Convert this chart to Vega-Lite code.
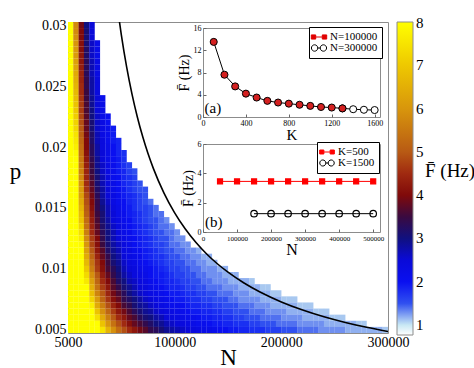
{
"$schema":"https://vega.github.io/schema/vega-lite/v6.json",
"background":"white",
"padding":{"left":8,"top":17,"right":0,"bottom":0},
"config":{"font":"Liberation Serif","view":{"stroke":"#8c8c8c","strokeWidth":1},
"axis":{"labelFont":"Liberation Serif","titleFont":"Liberation Serif","labelColor":"black","titleColor":"black","grid":false,"domain":false,"titleFontWeight":"normal","labelFlush":false,"labelOverlap":false},
"legend":{"labelFont":"Liberation Serif","titleFont":"Liberation Serif","labelColor":"black","titleColor":"black","titleFontWeight":"normal"}},
"datasets":{
"cells":[
{"N":5000,"p":0.03,"F":8},{"N":10000,"p":0.03,"F":5.8},{"N":15000,"p":0.03,"F":3.9},{"N":20000,"p":0.03,"F":3},{"N":25000,"p":0.03,"F":2.5},
{"N":5000,"p":0.0295,"F":8},{"N":10000,"p":0.0295,"F":5.8},{"N":15000,"p":0.0295,"F":4},{"N":20000,"p":0.0295,"F":3.1},{"N":25000,"p":0.0295,"F":2.5},
{"N":5000,"p":0.029,"F":8},{"N":10000,"p":0.029,"F":5.9},{"N":15000,"p":0.029,"F":4},{"N":20000,"p":0.029,"F":3.1},{"N":25000,"p":0.029,"F":2.5},
{"N":5000,"p":0.0285,"F":8},{"N":10000,"p":0.0285,"F":6},{"N":15000,"p":0.0285,"F":4.1},{"N":20000,"p":0.0285,"F":3.1},{"N":25000,"p":0.0285,"F":2.6},{"N":30000,"p":0.0285,"F":2.2},
{"N":5000,"p":0.028,"F":8},{"N":10000,"p":0.028,"F":6.1},{"N":15000,"p":0.028,"F":4.1},{"N":20000,"p":0.028,"F":3.2},{"N":25000,"p":0.028,"F":2.6},{"N":30000,"p":0.028,"F":2.2},
{"N":5000,"p":0.0275,"F":8},{"N":10000,"p":0.0275,"F":6.1},{"N":15000,"p":0.0275,"F":4.2},{"N":20000,"p":0.0275,"F":3.2},{"N":25000,"p":0.0275,"F":2.6},{"N":30000,"p":0.0275,"F":2.2},
{"N":5000,"p":0.027,"F":8},{"N":10000,"p":0.027,"F":6.2},{"N":15000,"p":0.027,"F":4.2},{"N":20000,"p":0.027,"F":3.3},{"N":25000,"p":0.027,"F":2.7},{"N":30000,"p":0.027,"F":2.3},
{"N":5000,"p":0.0265,"F":8},{"N":10000,"p":0.0265,"F":6.3},{"N":15000,"p":0.0265,"F":4.3},{"N":20000,"p":0.0265,"F":3.3},{"N":25000,"p":0.0265,"F":2.7},{"N":30000,"p":0.0265,"F":2.3},
{"N":5000,"p":0.026,"F":8},{"N":10000,"p":0.026,"F":6.4},{"N":15000,"p":0.026,"F":4.4},{"N":20000,"p":0.026,"F":3.3},{"N":25000,"p":0.026,"F":2.7},{"N":30000,"p":0.026,"F":2.3},
{"N":5000,"p":0.0255,"F":8},{"N":10000,"p":0.0255,"F":6.5},{"N":15000,"p":0.0255,"F":4.4},{"N":20000,"p":0.0255,"F":3.4},{"N":25000,"p":0.0255,"F":2.8},{"N":30000,"p":0.0255,"F":2.4},
{"N":5000,"p":0.025,"F":8},{"N":10000,"p":0.025,"F":6.6},{"N":15000,"p":0.025,"F":4.5},{"N":20000,"p":0.025,"F":3.4},{"N":25000,"p":0.025,"F":2.8},{"N":30000,"p":0.025,"F":2.4},
{"N":5000,"p":0.0245,"F":8},{"N":10000,"p":0.0245,"F":6.7},{"N":15000,"p":0.0245,"F":4.5},{"N":20000,"p":0.0245,"F":3.5},{"N":25000,"p":0.0245,"F":2.8},{"N":30000,"p":0.0245,"F":2.4},
{"N":5000,"p":0.024,"F":8},{"N":10000,"p":0.024,"F":6.8},{"N":15000,"p":0.024,"F":4.6},{"N":20000,"p":0.024,"F":3.5},{"N":25000,"p":0.024,"F":2.9},{"N":30000,"p":0.024,"F":2.5},{"N":35000,"p":0.024,"F":2.1},
{"N":5000,"p":0.0235,"F":8},{"N":10000,"p":0.0235,"F":6.9},{"N":15000,"p":0.0235,"F":4.7},{"N":20000,"p":0.0235,"F":3.6},{"N":25000,"p":0.0235,"F":2.9},{"N":30000,"p":0.0235,"F":2.5},{"N":35000,"p":0.0235,"F":2.2},
{"N":5000,"p":0.023,"F":8},{"N":10000,"p":0.023,"F":7},{"N":15000,"p":0.023,"F":4.7},{"N":20000,"p":0.023,"F":3.6},{"N":25000,"p":0.023,"F":3},{"N":30000,"p":0.023,"F":2.5},{"N":35000,"p":0.023,"F":2.2},
{"N":5000,"p":0.0225,"F":8},{"N":10000,"p":0.0225,"F":7.1},{"N":15000,"p":0.0225,"F":4.8},{"N":20000,"p":0.0225,"F":3.7},{"N":25000,"p":0.0225,"F":3},{"N":30000,"p":0.0225,"F":2.6},{"N":35000,"p":0.0225,"F":2.2},{"N":40000,"p":0.0225,"F":2},
{"N":5000,"p":0.022,"F":8},{"N":10000,"p":0.022,"F":7.2},{"N":15000,"p":0.022,"F":4.9},{"N":20000,"p":0.022,"F":3.8},{"N":25000,"p":0.022,"F":3.1},{"N":30000,"p":0.022,"F":2.6},{"N":35000,"p":0.022,"F":2.3},{"N":40000,"p":0.022,"F":2},
{"N":5000,"p":0.0215,"F":8},{"N":10000,"p":0.0215,"F":7.3},{"N":15000,"p":0.0215,"F":5},{"N":20000,"p":0.0215,"F":3.8},{"N":25000,"p":0.0215,"F":3.1},{"N":30000,"p":0.0215,"F":2.6},{"N":35000,"p":0.0215,"F":2.3},{"N":40000,"p":0.0215,"F":2.1},{"N":45000,"p":0.0215,"F":1.9},
{"N":5000,"p":0.021,"F":8},{"N":10000,"p":0.021,"F":7.5},{"N":15000,"p":0.021,"F":5.1},{"N":20000,"p":0.021,"F":3.9},{"N":25000,"p":0.021,"F":3.2},{"N":30000,"p":0.021,"F":2.7},{"N":35000,"p":0.021,"F":2.3},{"N":40000,"p":0.021,"F":2.1},{"N":45000,"p":0.021,"F":1.9},
{"N":5000,"p":0.0205,"F":8},{"N":10000,"p":0.0205,"F":7.6},{"N":15000,"p":0.0205,"F":5.2},{"N":20000,"p":0.0205,"F":4},{"N":25000,"p":0.0205,"F":3.2},{"N":30000,"p":0.0205,"F":2.7},{"N":35000,"p":0.0205,"F":2.4},{"N":40000,"p":0.0205,"F":2.1},{"N":45000,"p":0.0205,"F":1.9},{"N":50000,"p":0.0205,"F":1.8},
{"N":5000,"p":0.02,"F":8},{"N":10000,"p":0.02,"F":7.7},{"N":15000,"p":0.02,"F":5.3},{"N":20000,"p":0.02,"F":4},{"N":25000,"p":0.02,"F":3.3},{"N":30000,"p":0.02,"F":2.8},{"N":35000,"p":0.02,"F":2.4},{"N":40000,"p":0.02,"F":2.2},{"N":45000,"p":0.02,"F":2},{"N":50000,"p":0.02,"F":1.8},
{"N":5000,"p":0.0195,"F":8},{"N":10000,"p":0.0195,"F":7.9},{"N":15000,"p":0.0195,"F":5.4},{"N":20000,"p":0.0195,"F":4.1},{"N":25000,"p":0.0195,"F":3.3},{"N":30000,"p":0.0195,"F":2.8},{"N":35000,"p":0.0195,"F":2.5},{"N":40000,"p":0.0195,"F":2.2},{"N":45000,"p":0.0195,"F":2},{"N":50000,"p":0.0195,"F":1.8},{"N":55000,"p":0.0195,"F":1.7},
{"N":5000,"p":0.019,"F":8},{"N":10000,"p":0.019,"F":8},{"N":15000,"p":0.019,"F":5.5},{"N":20000,"p":0.019,"F":4.2},{"N":25000,"p":0.019,"F":3.4},{"N":30000,"p":0.019,"F":2.9},{"N":35000,"p":0.019,"F":2.5},{"N":40000,"p":0.019,"F":2.2},{"N":45000,"p":0.019,"F":2},{"N":50000,"p":0.019,"F":1.9},{"N":55000,"p":0.019,"F":1.7},
{"N":5000,"p":0.0185,"F":8},{"N":10000,"p":0.0185,"F":8},{"N":15000,"p":0.0185,"F":5.6},{"N":20000,"p":0.0185,"F":4.3},{"N":25000,"p":0.0185,"F":3.5},{"N":30000,"p":0.0185,"F":2.9},{"N":35000,"p":0.0185,"F":2.6},{"N":40000,"p":0.0185,"F":2.3},{"N":45000,"p":0.0185,"F":2.1},{"N":50000,"p":0.0185,"F":1.9},{"N":55000,"p":0.0185,"F":1.7},{"N":60000,"p":0.0185,"F":1.6},
{"N":5000,"p":0.018,"F":8},{"N":10000,"p":0.018,"F":8},{"N":15000,"p":0.018,"F":5.7},{"N":20000,"p":0.018,"F":4.4},{"N":25000,"p":0.018,"F":3.5},{"N":30000,"p":0.018,"F":3},{"N":35000,"p":0.018,"F":2.6},{"N":40000,"p":0.018,"F":2.3},{"N":45000,"p":0.018,"F":2.1},{"N":50000,"p":0.018,"F":1.9},{"N":55000,"p":0.018,"F":1.8},{"N":60000,"p":0.018,"F":1.6},{"N":65000,"p":0.018,"F":1.5},
{"N":5000,"p":0.0175,"F":8},{"N":10000,"p":0.0175,"F":8},{"N":15000,"p":0.0175,"F":5.8},{"N":20000,"p":0.0175,"F":4.4},{"N":25000,"p":0.0175,"F":3.6},{"N":30000,"p":0.0175,"F":3.1},{"N":35000,"p":0.0175,"F":2.7},{"N":40000,"p":0.0175,"F":2.4},{"N":45000,"p":0.0175,"F":2.1},{"N":50000,"p":0.0175,"F":2},{"N":55000,"p":0.0175,"F":1.8},{"N":60000,"p":0.0175,"F":1.7},{"N":65000,"p":0.0175,"F":1.6},
{"N":5000,"p":0.017,"F":8},{"N":10000,"p":0.017,"F":8},{"N":15000,"p":0.017,"F":6},{"N":20000,"p":0.017,"F":4.5},{"N":25000,"p":0.017,"F":3.7},{"N":30000,"p":0.017,"F":3.1},{"N":35000,"p":0.017,"F":2.7},{"N":40000,"p":0.017,"F":2.4},{"N":45000,"p":0.017,"F":2.2},{"N":50000,"p":0.017,"F":2},{"N":55000,"p":0.017,"F":1.8},{"N":60000,"p":0.017,"F":1.7},{"N":65000,"p":0.017,"F":1.6},{"N":70000,"p":0.017,"F":1.5},
{"N":5000,"p":0.0165,"F":8},{"N":10000,"p":0.0165,"F":8},{"N":15000,"p":0.0165,"F":6.1},{"N":20000,"p":0.0165,"F":4.6},{"N":25000,"p":0.0165,"F":3.8},{"N":30000,"p":0.0165,"F":3.2},{"N":35000,"p":0.0165,"F":2.8},{"N":40000,"p":0.0165,"F":2.5},{"N":45000,"p":0.0165,"F":2.2},{"N":50000,"p":0.0165,"F":2},{"N":55000,"p":0.0165,"F":1.9},{"N":60000,"p":0.0165,"F":1.7},{"N":65000,"p":0.0165,"F":1.6},{"N":70000,"p":0.0165,"F":1.5},{"N":75000,"p":0.0165,"F":1.5},
{"N":5000,"p":0.016,"F":8},{"N":10000,"p":0.016,"F":8},{"N":15000,"p":0.016,"F":6.2},{"N":20000,"p":0.016,"F":4.8},{"N":25000,"p":0.016,"F":3.9},{"N":30000,"p":0.016,"F":3.3},{"N":35000,"p":0.016,"F":2.8},{"N":40000,"p":0.016,"F":2.5},{"N":45000,"p":0.016,"F":2.3},{"N":50000,"p":0.016,"F":2.1},{"N":55000,"p":0.016,"F":1.9},{"N":60000,"p":0.016,"F":1.8},{"N":65000,"p":0.016,"F":1.7},{"N":70000,"p":0.016,"F":1.6},{"N":75000,"p":0.016,"F":1.5},
{"N":5000,"p":0.0155,"F":8},{"N":10000,"p":0.0155,"F":8},{"N":15000,"p":0.0155,"F":6.4},{"N":20000,"p":0.0155,"F":4.9},{"N":25000,"p":0.0155,"F":4},{"N":30000,"p":0.0155,"F":3.4},{"N":35000,"p":0.0155,"F":2.9},{"N":40000,"p":0.0155,"F":2.6},{"N":45000,"p":0.0155,"F":2.3},{"N":50000,"p":0.0155,"F":2.1},{"N":55000,"p":0.0155,"F":2},{"N":60000,"p":0.0155,"F":1.8},{"N":65000,"p":0.0155,"F":1.7},{"N":70000,"p":0.0155,"F":1.6},{"N":75000,"p":0.0155,"F":1.5},{"N":80000,"p":0.0155,"F":1.4},
{"N":5000,"p":0.015,"F":8},{"N":10000,"p":0.015,"F":8},{"N":15000,"p":0.015,"F":6.6},{"N":20000,"p":0.015,"F":5},{"N":25000,"p":0.015,"F":4.1},{"N":30000,"p":0.015,"F":3.4},{"N":35000,"p":0.015,"F":3},{"N":40000,"p":0.015,"F":2.7},{"N":45000,"p":0.015,"F":2.4},{"N":50000,"p":0.015,"F":2.2},{"N":55000,"p":0.015,"F":2},{"N":60000,"p":0.015,"F":1.9},{"N":65000,"p":0.015,"F":1.7},{"N":70000,"p":0.015,"F":1.6},{"N":75000,"p":0.015,"F":1.6},{"N":80000,"p":0.015,"F":1.5},{"N":85000,"p":0.015,"F":1.4},
{"N":5000,"p":0.0145,"F":8},{"N":10000,"p":0.0145,"F":8},{"N":15000,"p":0.0145,"F":6.8},{"N":20000,"p":0.0145,"F":5.1},{"N":25000,"p":0.0145,"F":4.2},{"N":30000,"p":0.0145,"F":3.5},{"N":35000,"p":0.0145,"F":3.1},{"N":40000,"p":0.0145,"F":2.7},{"N":45000,"p":0.0145,"F":2.5},{"N":50000,"p":0.0145,"F":2.2},{"N":55000,"p":0.0145,"F":2.1},{"N":60000,"p":0.0145,"F":1.9},{"N":65000,"p":0.0145,"F":1.8},{"N":70000,"p":0.0145,"F":1.7},{"N":75000,"p":0.0145,"F":1.6},{"N":80000,"p":0.0145,"F":1.5},{"N":85000,"p":0.0145,"F":1.4},{"N":90000,"p":0.0145,"F":1.4},
{"N":5000,"p":0.014,"F":8},{"N":10000,"p":0.014,"F":8},{"N":15000,"p":0.014,"F":6.9},{"N":20000,"p":0.014,"F":5.3},{"N":25000,"p":0.014,"F":4.3},{"N":30000,"p":0.014,"F":3.6},{"N":35000,"p":0.014,"F":3.1},{"N":40000,"p":0.014,"F":2.8},{"N":45000,"p":0.014,"F":2.5},{"N":50000,"p":0.014,"F":2.3},{"N":55000,"p":0.014,"F":2.1},{"N":60000,"p":0.014,"F":2},{"N":65000,"p":0.014,"F":1.8},{"N":70000,"p":0.014,"F":1.7},{"N":75000,"p":0.014,"F":1.6},{"N":80000,"p":0.014,"F":1.5},{"N":85000,"p":0.014,"F":1.5},{"N":90000,"p":0.014,"F":1.4},{"N":95000,"p":0.014,"F":1.3},
{"N":5000,"p":0.0135,"F":8},{"N":10000,"p":0.0135,"F":8},{"N":15000,"p":0.0135,"F":7.2},{"N":20000,"p":0.0135,"F":5.4},{"N":25000,"p":0.0135,"F":4.4},{"N":30000,"p":0.0135,"F":3.7},{"N":35000,"p":0.0135,"F":3.2},{"N":40000,"p":0.0135,"F":2.9},{"N":45000,"p":0.0135,"F":2.6},{"N":50000,"p":0.0135,"F":2.4},{"N":55000,"p":0.0135,"F":2.2},{"N":60000,"p":0.0135,"F":2},{"N":65000,"p":0.0135,"F":1.9},{"N":70000,"p":0.0135,"F":1.8},{"N":75000,"p":0.0135,"F":1.7},{"N":80000,"p":0.0135,"F":1.6},{"N":85000,"p":0.0135,"F":1.5},{"N":90000,"p":0.0135,"F":1.4},{"N":95000,"p":0.0135,"F":1.4},{"N":100000,"p":0.0135,"F":1.3},
{"N":5000,"p":0.013,"F":8},{"N":10000,"p":0.013,"F":8},{"N":15000,"p":0.013,"F":7.4},{"N":20000,"p":0.013,"F":5.6},{"N":25000,"p":0.013,"F":4.5},{"N":30000,"p":0.013,"F":3.8},{"N":35000,"p":0.013,"F":3.3},{"N":40000,"p":0.013,"F":3},{"N":45000,"p":0.013,"F":2.7},{"N":50000,"p":0.013,"F":2.4},{"N":55000,"p":0.013,"F":2.2},{"N":60000,"p":0.013,"F":2.1},{"N":65000,"p":0.013,"F":1.9},{"N":70000,"p":0.013,"F":1.8},{"N":75000,"p":0.013,"F":1.7},{"N":80000,"p":0.013,"F":1.6},{"N":85000,"p":0.013,"F":1.5},{"N":90000,"p":0.013,"F":1.5},{"N":95000,"p":0.013,"F":1.4},{"N":100000,"p":0.013,"F":1.4},{"N":105000,"p":0.013,"F":1.3},
{"N":5000,"p":0.0125,"F":8},{"N":10000,"p":0.0125,"F":8},{"N":15000,"p":0.0125,"F":7.6},{"N":20000,"p":0.0125,"F":5.8},{"N":25000,"p":0.0125,"F":4.7},{"N":30000,"p":0.0125,"F":4},{"N":35000,"p":0.0125,"F":3.4},{"N":40000,"p":0.0125,"F":3},{"N":45000,"p":0.0125,"F":2.7},{"N":50000,"p":0.0125,"F":2.5},{"N":55000,"p":0.0125,"F":2.3},{"N":60000,"p":0.0125,"F":2.1},{"N":65000,"p":0.0125,"F":2},{"N":70000,"p":0.0125,"F":1.9},{"N":75000,"p":0.0125,"F":1.8},{"N":80000,"p":0.0125,"F":1.7},{"N":85000,"p":0.0125,"F":1.6},{"N":90000,"p":0.0125,"F":1.5},{"N":95000,"p":0.0125,"F":1.5},{"N":100000,"p":0.0125,"F":1.4},{"N":105000,"p":0.0125,"F":1.3},{"N":110000,"p":0.0125,"F":1.3},
{"N":5000,"p":0.012,"F":8},{"N":10000,"p":0.012,"F":8},{"N":15000,"p":0.012,"F":7.9},{"N":20000,"p":0.012,"F":6},{"N":25000,"p":0.012,"F":4.8},{"N":30000,"p":0.012,"F":4.1},{"N":35000,"p":0.012,"F":3.5},{"N":40000,"p":0.012,"F":3.1},{"N":45000,"p":0.012,"F":2.8},{"N":50000,"p":0.012,"F":2.6},{"N":55000,"p":0.012,"F":2.4},{"N":60000,"p":0.012,"F":2.2},{"N":65000,"p":0.012,"F":2},{"N":70000,"p":0.012,"F":1.9},{"N":75000,"p":0.012,"F":1.8},{"N":80000,"p":0.012,"F":1.7},{"N":85000,"p":0.012,"F":1.6},{"N":90000,"p":0.012,"F":1.6},{"N":95000,"p":0.012,"F":1.5},{"N":100000,"p":0.012,"F":1.4},{"N":105000,"p":0.012,"F":1.4},{"N":110000,"p":0.012,"F":1.3},{"N":115000,"p":0.012,"F":1.3},
{"N":5000,"p":0.0115,"F":8},{"N":10000,"p":0.0115,"F":8},{"N":15000,"p":0.0115,"F":8},{"N":20000,"p":0.0115,"F":6.2},{"N":25000,"p":0.0115,"F":5},{"N":30000,"p":0.0115,"F":4.2},{"N":35000,"p":0.0115,"F":3.7},{"N":40000,"p":0.0115,"F":3.2},{"N":45000,"p":0.0115,"F":2.9},{"N":50000,"p":0.0115,"F":2.7},{"N":55000,"p":0.0115,"F":2.4},{"N":60000,"p":0.0115,"F":2.3},{"N":65000,"p":0.0115,"F":2.1},{"N":70000,"p":0.0115,"F":2},{"N":75000,"p":0.0115,"F":1.9},{"N":80000,"p":0.0115,"F":1.8},{"N":85000,"p":0.0115,"F":1.7},{"N":90000,"p":0.0115,"F":1.6},{"N":95000,"p":0.0115,"F":1.5},{"N":100000,"p":0.0115,"F":1.5},{"N":105000,"p":0.0115,"F":1.4},{"N":110000,"p":0.0115,"F":1.4},{"N":115000,"p":0.0115,"F":1.3},{"N":120000,"p":0.0115,"F":1.3},{"N":125000,"p":0.0115,"F":1.2},
{"N":5000,"p":0.011,"F":8},{"N":10000,"p":0.011,"F":8},{"N":15000,"p":0.011,"F":8},{"N":20000,"p":0.011,"F":6.4},{"N":25000,"p":0.011,"F":5.2},{"N":30000,"p":0.011,"F":4.4},{"N":35000,"p":0.011,"F":3.8},{"N":40000,"p":0.011,"F":3.4},{"N":45000,"p":0.011,"F":3},{"N":50000,"p":0.011,"F":2.8},{"N":55000,"p":0.011,"F":2.5},{"N":60000,"p":0.011,"F":2.3},{"N":65000,"p":0.011,"F":2.2},{"N":70000,"p":0.011,"F":2.1},{"N":75000,"p":0.011,"F":1.9},{"N":80000,"p":0.011,"F":1.8},{"N":85000,"p":0.011,"F":1.7},{"N":90000,"p":0.011,"F":1.7},{"N":95000,"p":0.011,"F":1.6},{"N":100000,"p":0.011,"F":1.5},{"N":105000,"p":0.011,"F":1.5},{"N":110000,"p":0.011,"F":1.4},{"N":115000,"p":0.011,"F":1.4},{"N":120000,"p":0.011,"F":1.3},{"N":125000,"p":0.011,"F":1.3},{"N":130000,"p":0.011,"F":1.2},{"N":135000,"p":0.011,"F":1.2},
{"N":5000,"p":0.0105,"F":8},{"N":10000,"p":0.0105,"F":8},{"N":15000,"p":0.0105,"F":8},{"N":20000,"p":0.0105,"F":6.7},{"N":25000,"p":0.0105,"F":5.4},{"N":30000,"p":0.0105,"F":4.6},{"N":35000,"p":0.0105,"F":4},{"N":40000,"p":0.0105,"F":3.5},{"N":45000,"p":0.0105,"F":3.1},{"N":50000,"p":0.0105,"F":2.9},{"N":55000,"p":0.0105,"F":2.6},{"N":60000,"p":0.0105,"F":2.4},{"N":65000,"p":0.0105,"F":2.3},{"N":70000,"p":0.0105,"F":2.1},{"N":75000,"p":0.0105,"F":2},{"N":80000,"p":0.0105,"F":1.9},{"N":85000,"p":0.0105,"F":1.8},{"N":90000,"p":0.0105,"F":1.7},{"N":95000,"p":0.0105,"F":1.6},{"N":100000,"p":0.0105,"F":1.6},{"N":105000,"p":0.0105,"F":1.5},{"N":110000,"p":0.0105,"F":1.5},{"N":115000,"p":0.0105,"F":1.4},{"N":120000,"p":0.0105,"F":1.4},{"N":125000,"p":0.0105,"F":1.3},{"N":130000,"p":0.0105,"F":1.3},{"N":135000,"p":0.0105,"F":1.2},{"N":140000,"p":0.0105,"F":1.2},
{"N":5000,"p":0.01,"F":8},{"N":10000,"p":0.01,"F":8},{"N":15000,"p":0.01,"F":8},{"N":20000,"p":0.01,"F":7},{"N":25000,"p":0.01,"F":5.6},{"N":30000,"p":0.01,"F":4.7},{"N":35000,"p":0.01,"F":4.1},{"N":40000,"p":0.01,"F":3.6},{"N":45000,"p":0.01,"F":3.3},{"N":50000,"p":0.01,"F":3},{"N":55000,"p":0.01,"F":2.7},{"N":60000,"p":0.01,"F":2.5},{"N":65000,"p":0.01,"F":2.4},{"N":70000,"p":0.01,"F":2.2},{"N":75000,"p":0.01,"F":2.1},{"N":80000,"p":0.01,"F":2},{"N":85000,"p":0.01,"F":1.9},{"N":90000,"p":0.01,"F":1.8},{"N":95000,"p":0.01,"F":1.7},{"N":100000,"p":0.01,"F":1.6},{"N":105000,"p":0.01,"F":1.6},{"N":110000,"p":0.01,"F":1.5},{"N":115000,"p":0.01,"F":1.5},{"N":120000,"p":0.01,"F":1.4},{"N":125000,"p":0.01,"F":1.4},{"N":130000,"p":0.01,"F":1.3},{"N":135000,"p":0.01,"F":1.3},{"N":140000,"p":0.01,"F":1.3},{"N":145000,"p":0.01,"F":1.2},{"N":150000,"p":0.01,"F":1.2},
{"N":5000,"p":0.0095,"F":8},{"N":10000,"p":0.0095,"F":8},{"N":15000,"p":0.0095,"F":8},{"N":20000,"p":0.0095,"F":7.3},{"N":25000,"p":0.0095,"F":5.9},{"N":30000,"p":0.0095,"F":5},{"N":35000,"p":0.0095,"F":4.3},{"N":40000,"p":0.0095,"F":3.8},{"N":45000,"p":0.0095,"F":3.4},{"N":50000,"p":0.0095,"F":3.1},{"N":55000,"p":0.0095,"F":2.8},{"N":60000,"p":0.0095,"F":2.6},{"N":65000,"p":0.0095,"F":2.4},{"N":70000,"p":0.0095,"F":2.3},{"N":75000,"p":0.0095,"F":2.2},{"N":80000,"p":0.0095,"F":2},{"N":85000,"p":0.0095,"F":1.9},{"N":90000,"p":0.0095,"F":1.9},{"N":95000,"p":0.0095,"F":1.8},{"N":100000,"p":0.0095,"F":1.7},{"N":105000,"p":0.0095,"F":1.6},{"N":110000,"p":0.0095,"F":1.6},{"N":115000,"p":0.0095,"F":1.5},{"N":120000,"p":0.0095,"F":1.5},{"N":125000,"p":0.0095,"F":1.4},{"N":130000,"p":0.0095,"F":1.4},{"N":135000,"p":0.0095,"F":1.3},{"N":140000,"p":0.0095,"F":1.3},{"N":145000,"p":0.0095,"F":1.3},{"N":150000,"p":0.0095,"F":1.2},{"N":155000,"p":0.0095,"F":1.2},{"N":160000,"p":0.0095,"F":1.2},
{"N":5000,"p":0.009,"F":8},{"N":10000,"p":0.009,"F":8},{"N":15000,"p":0.009,"F":8},{"N":20000,"p":0.009,"F":7.6},{"N":25000,"p":0.009,"F":6.2},{"N":30000,"p":0.009,"F":5.2},{"N":35000,"p":0.009,"F":4.5},{"N":40000,"p":0.009,"F":4},{"N":45000,"p":0.009,"F":3.6},{"N":50000,"p":0.009,"F":3.2},{"N":55000,"p":0.009,"F":3},{"N":60000,"p":0.009,"F":2.7},{"N":65000,"p":0.009,"F":2.6},{"N":70000,"p":0.009,"F":2.4},{"N":75000,"p":0.009,"F":2.3},{"N":80000,"p":0.009,"F":2.1},{"N":85000,"p":0.009,"F":2},{"N":90000,"p":0.009,"F":1.9},{"N":95000,"p":0.009,"F":1.8},{"N":100000,"p":0.009,"F":1.8},{"N":105000,"p":0.009,"F":1.7},{"N":110000,"p":0.009,"F":1.6},{"N":115000,"p":0.009,"F":1.6},{"N":120000,"p":0.009,"F":1.5},{"N":125000,"p":0.009,"F":1.5},{"N":130000,"p":0.009,"F":1.4},{"N":135000,"p":0.009,"F":1.4},{"N":140000,"p":0.009,"F":1.3},{"N":145000,"p":0.009,"F":1.3},{"N":150000,"p":0.009,"F":1.3},{"N":155000,"p":0.009,"F":1.2},{"N":160000,"p":0.009,"F":1.2},{"N":165000,"p":0.009,"F":1.2},{"N":170000,"p":0.009,"F":1.2},{"N":175000,"p":0.009,"F":1.1},
{"N":5000,"p":0.0085,"F":8},{"N":10000,"p":0.0085,"F":8},{"N":15000,"p":0.0085,"F":8},{"N":20000,"p":0.0085,"F":8},{"N":25000,"p":0.0085,"F":6.5},{"N":30000,"p":0.0085,"F":5.4},{"N":35000,"p":0.0085,"F":4.7},{"N":40000,"p":0.0085,"F":4.2},{"N":45000,"p":0.0085,"F":3.7},{"N":50000,"p":0.0085,"F":3.4},{"N":55000,"p":0.0085,"F":3.1},{"N":60000,"p":0.0085,"F":2.9},{"N":65000,"p":0.0085,"F":2.7},{"N":70000,"p":0.0085,"F":2.5},{"N":75000,"p":0.0085,"F":2.4},{"N":80000,"p":0.0085,"F":2.2},{"N":85000,"p":0.0085,"F":2.1},{"N":90000,"p":0.0085,"F":2},{"N":95000,"p":0.0085,"F":1.9},{"N":100000,"p":0.0085,"F":1.8},{"N":105000,"p":0.0085,"F":1.8},{"N":110000,"p":0.0085,"F":1.7},{"N":115000,"p":0.0085,"F":1.6},{"N":120000,"p":0.0085,"F":1.6},{"N":125000,"p":0.0085,"F":1.5},{"N":130000,"p":0.0085,"F":1.5},{"N":135000,"p":0.0085,"F":1.4},{"N":140000,"p":0.0085,"F":1.4},{"N":145000,"p":0.0085,"F":1.4},{"N":150000,"p":0.0085,"F":1.3},{"N":155000,"p":0.0085,"F":1.3},{"N":160000,"p":0.0085,"F":1.3},{"N":165000,"p":0.0085,"F":1.2},{"N":170000,"p":0.0085,"F":1.2},{"N":175000,"p":0.0085,"F":1.2},{"N":180000,"p":0.0085,"F":1.2},{"N":185000,"p":0.0085,"F":1.1},{"N":190000,"p":0.0085,"F":1.1},
{"N":5000,"p":0.008,"F":8},{"N":10000,"p":0.008,"F":8},{"N":15000,"p":0.008,"F":8},{"N":20000,"p":0.008,"F":8},{"N":25000,"p":0.008,"F":6.8},{"N":30000,"p":0.008,"F":5.7},{"N":35000,"p":0.008,"F":5},{"N":40000,"p":0.008,"F":4.4},{"N":45000,"p":0.008,"F":3.9},{"N":50000,"p":0.008,"F":3.6},{"N":55000,"p":0.008,"F":3.3},{"N":60000,"p":0.008,"F":3},{"N":65000,"p":0.008,"F":2.8},{"N":70000,"p":0.008,"F":2.6},{"N":75000,"p":0.008,"F":2.5},{"N":80000,"p":0.008,"F":2.3},{"N":85000,"p":0.008,"F":2.2},{"N":90000,"p":0.008,"F":2.1},{"N":95000,"p":0.008,"F":2},{"N":100000,"p":0.008,"F":1.9},{"N":105000,"p":0.008,"F":1.9},{"N":110000,"p":0.008,"F":1.8},{"N":115000,"p":0.008,"F":1.7},{"N":120000,"p":0.008,"F":1.7},{"N":125000,"p":0.008,"F":1.6},{"N":130000,"p":0.008,"F":1.6},{"N":135000,"p":0.008,"F":1.5},{"N":140000,"p":0.008,"F":1.5},{"N":145000,"p":0.008,"F":1.4},{"N":150000,"p":0.008,"F":1.4},{"N":155000,"p":0.008,"F":1.4},{"N":160000,"p":0.008,"F":1.3},{"N":165000,"p":0.008,"F":1.3},{"N":170000,"p":0.008,"F":1.3},{"N":175000,"p":0.008,"F":1.2},{"N":180000,"p":0.008,"F":1.2},{"N":185000,"p":0.008,"F":1.2},{"N":190000,"p":0.008,"F":1.2},{"N":195000,"p":0.008,"F":1.1},{"N":200000,"p":0.008,"F":1.1},
{"N":5000,"p":0.0075,"F":8},{"N":10000,"p":0.0075,"F":8},{"N":15000,"p":0.0075,"F":8},{"N":20000,"p":0.0075,"F":8},{"N":25000,"p":0.0075,"F":7.2},{"N":30000,"p":0.0075,"F":6.1},{"N":35000,"p":0.0075,"F":5.2},{"N":40000,"p":0.0075,"F":4.6},{"N":45000,"p":0.0075,"F":4.1},{"N":50000,"p":0.0075,"F":3.8},{"N":55000,"p":0.0075,"F":3.4},{"N":60000,"p":0.0075,"F":3.2},{"N":65000,"p":0.0075,"F":3},{"N":70000,"p":0.0075,"F":2.8},{"N":75000,"p":0.0075,"F":2.6},{"N":80000,"p":0.0075,"F":2.5},{"N":85000,"p":0.0075,"F":2.3},{"N":90000,"p":0.0075,"F":2.2},{"N":95000,"p":0.0075,"F":2.1},{"N":100000,"p":0.0075,"F":2},{"N":105000,"p":0.0075,"F":1.9},{"N":110000,"p":0.0075,"F":1.9},{"N":115000,"p":0.0075,"F":1.8},{"N":120000,"p":0.0075,"F":1.7},{"N":125000,"p":0.0075,"F":1.7},{"N":130000,"p":0.0075,"F":1.6},{"N":135000,"p":0.0075,"F":1.6},{"N":140000,"p":0.0075,"F":1.5},{"N":145000,"p":0.0075,"F":1.5},{"N":150000,"p":0.0075,"F":1.5},{"N":155000,"p":0.0075,"F":1.4},{"N":160000,"p":0.0075,"F":1.4},{"N":165000,"p":0.0075,"F":1.3},{"N":170000,"p":0.0075,"F":1.3},{"N":175000,"p":0.0075,"F":1.3},{"N":180000,"p":0.0075,"F":1.3},{"N":185000,"p":0.0075,"F":1.2},{"N":190000,"p":0.0075,"F":1.2},{"N":195000,"p":0.0075,"F":1.2},{"N":200000,"p":0.0075,"F":1.2},{"N":205000,"p":0.0075,"F":1.1},{"N":210000,"p":0.0075,"F":1.1},{"N":215000,"p":0.0075,"F":1.1},
{"N":5000,"p":0.007,"F":8},{"N":10000,"p":0.007,"F":8},{"N":15000,"p":0.007,"F":8},{"N":20000,"p":0.007,"F":8},{"N":25000,"p":0.007,"F":7.7},{"N":30000,"p":0.007,"F":6.4},{"N":35000,"p":0.007,"F":5.6},{"N":40000,"p":0.007,"F":4.9},{"N":45000,"p":0.007,"F":4.4},{"N":50000,"p":0.007,"F":4},{"N":55000,"p":0.007,"F":3.6},{"N":60000,"p":0.007,"F":3.4},{"N":65000,"p":0.007,"F":3.1},{"N":70000,"p":0.007,"F":2.9},{"N":75000,"p":0.007,"F":2.8},{"N":80000,"p":0.007,"F":2.6},{"N":85000,"p":0.007,"F":2.5},{"N":90000,"p":0.007,"F":2.3},{"N":95000,"p":0.007,"F":2.2},{"N":100000,"p":0.007,"F":2.1},{"N":105000,"p":0.007,"F":2.1},{"N":110000,"p":0.007,"F":2},{"N":115000,"p":0.007,"F":1.9},{"N":120000,"p":0.007,"F":1.8},{"N":125000,"p":0.007,"F":1.8},{"N":130000,"p":0.007,"F":1.7},{"N":135000,"p":0.007,"F":1.7},{"N":140000,"p":0.007,"F":1.6},{"N":145000,"p":0.007,"F":1.6},{"N":150000,"p":0.007,"F":1.5},{"N":155000,"p":0.007,"F":1.5},{"N":160000,"p":0.007,"F":1.5},{"N":165000,"p":0.007,"F":1.4},{"N":170000,"p":0.007,"F":1.4},{"N":175000,"p":0.007,"F":1.4},{"N":180000,"p":0.007,"F":1.3},{"N":185000,"p":0.007,"F":1.3},{"N":190000,"p":0.007,"F":1.3},{"N":195000,"p":0.007,"F":1.2},{"N":200000,"p":0.007,"F":1.2},{"N":205000,"p":0.007,"F":1.2},{"N":210000,"p":0.007,"F":1.2},{"N":215000,"p":0.007,"F":1.2},{"N":220000,"p":0.007,"F":1.1},{"N":225000,"p":0.007,"F":1.1},{"N":230000,"p":0.007,"F":1.1},
{"N":5000,"p":0.0065,"F":8},{"N":10000,"p":0.0065,"F":8},{"N":15000,"p":0.0065,"F":8},{"N":20000,"p":0.0065,"F":8},{"N":25000,"p":0.0065,"F":8},{"N":30000,"p":0.0065,"F":6.9},{"N":35000,"p":0.0065,"F":5.9},{"N":40000,"p":0.0065,"F":5.2},{"N":45000,"p":0.0065,"F":4.7},{"N":50000,"p":0.0065,"F":4.2},{"N":55000,"p":0.0065,"F":3.9},{"N":60000,"p":0.0065,"F":3.6},{"N":65000,"p":0.0065,"F":3.3},{"N":70000,"p":0.0065,"F":3.1},{"N":75000,"p":0.0065,"F":2.9},{"N":80000,"p":0.0065,"F":2.8},{"N":85000,"p":0.0065,"F":2.6},{"N":90000,"p":0.0065,"F":2.5},{"N":95000,"p":0.0065,"F":2.4},{"N":100000,"p":0.0065,"F":2.3},{"N":105000,"p":0.0065,"F":2.2},{"N":110000,"p":0.0065,"F":2.1},{"N":115000,"p":0.0065,"F":2},{"N":120000,"p":0.0065,"F":1.9},{"N":125000,"p":0.0065,"F":1.9},{"N":130000,"p":0.0065,"F":1.8},{"N":135000,"p":0.0065,"F":1.8},{"N":140000,"p":0.0065,"F":1.7},{"N":145000,"p":0.0065,"F":1.7},{"N":150000,"p":0.0065,"F":1.6},{"N":155000,"p":0.0065,"F":1.6},{"N":160000,"p":0.0065,"F":1.5},{"N":165000,"p":0.0065,"F":1.5},{"N":170000,"p":0.0065,"F":1.5},{"N":175000,"p":0.0065,"F":1.4},{"N":180000,"p":0.0065,"F":1.4},{"N":185000,"p":0.0065,"F":1.4},{"N":190000,"p":0.0065,"F":1.3},{"N":195000,"p":0.0065,"F":1.3},{"N":200000,"p":0.0065,"F":1.3},{"N":205000,"p":0.0065,"F":1.3},{"N":210000,"p":0.0065,"F":1.2},{"N":215000,"p":0.0065,"F":1.2},{"N":220000,"p":0.0065,"F":1.2},{"N":225000,"p":0.0065,"F":1.2},{"N":230000,"p":0.0065,"F":1.2},{"N":235000,"p":0.0065,"F":1.1},{"N":240000,"p":0.0065,"F":1.1},{"N":245000,"p":0.0065,"F":1.1},
{"N":5000,"p":0.006,"F":8},{"N":10000,"p":0.006,"F":8},{"N":15000,"p":0.006,"F":8},{"N":20000,"p":0.006,"F":8},{"N":25000,"p":0.006,"F":8},{"N":30000,"p":0.006,"F":7.4},{"N":35000,"p":0.006,"F":6.4},{"N":40000,"p":0.006,"F":5.6},{"N":45000,"p":0.006,"F":5},{"N":50000,"p":0.006,"F":4.5},{"N":55000,"p":0.006,"F":4.2},{"N":60000,"p":0.006,"F":3.8},{"N":65000,"p":0.006,"F":3.6},{"N":70000,"p":0.006,"F":3.3},{"N":75000,"p":0.006,"F":3.1},{"N":80000,"p":0.006,"F":3},{"N":85000,"p":0.006,"F":2.8},{"N":90000,"p":0.006,"F":2.7},{"N":95000,"p":0.006,"F":2.5},{"N":100000,"p":0.006,"F":2.4},{"N":105000,"p":0.006,"F":2.3},{"N":110000,"p":0.006,"F":2.2},{"N":115000,"p":0.006,"F":2.1},{"N":120000,"p":0.006,"F":2.1},{"N":125000,"p":0.006,"F":2},{"N":130000,"p":0.006,"F":1.9},{"N":135000,"p":0.006,"F":1.9},{"N":140000,"p":0.006,"F":1.8},{"N":145000,"p":0.006,"F":1.8},{"N":150000,"p":0.006,"F":1.7},{"N":155000,"p":0.006,"F":1.7},{"N":160000,"p":0.006,"F":1.6},{"N":165000,"p":0.006,"F":1.6},{"N":170000,"p":0.006,"F":1.5},{"N":175000,"p":0.006,"F":1.5},{"N":180000,"p":0.006,"F":1.5},{"N":185000,"p":0.006,"F":1.4},{"N":190000,"p":0.006,"F":1.4},{"N":195000,"p":0.006,"F":1.4},{"N":200000,"p":0.006,"F":1.4},{"N":205000,"p":0.006,"F":1.3},{"N":210000,"p":0.006,"F":1.3},{"N":215000,"p":0.006,"F":1.3},{"N":220000,"p":0.006,"F":1.3},{"N":225000,"p":0.006,"F":1.2},{"N":230000,"p":0.006,"F":1.2},{"N":235000,"p":0.006,"F":1.2},{"N":240000,"p":0.006,"F":1.2},{"N":245000,"p":0.006,"F":1.2},{"N":250000,"p":0.006,"F":1.1},{"N":255000,"p":0.006,"F":1.1},{"N":260000,"p":0.006,"F":1.1},
{"N":5000,"p":0.0055,"F":8},{"N":10000,"p":0.0055,"F":8},{"N":15000,"p":0.0055,"F":8},{"N":20000,"p":0.0055,"F":8},{"N":25000,"p":0.0055,"F":8},{"N":30000,"p":0.0055,"F":8},{"N":35000,"p":0.0055,"F":6.9},{"N":40000,"p":0.0055,"F":6},{"N":45000,"p":0.0055,"F":5.4},{"N":50000,"p":0.0055,"F":4.9},{"N":55000,"p":0.0055,"F":4.5},{"N":60000,"p":0.0055,"F":4.1},{"N":65000,"p":0.0055,"F":3.8},{"N":70000,"p":0.0055,"F":3.6},{"N":75000,"p":0.0055,"F":3.4},{"N":80000,"p":0.0055,"F":3.2},{"N":85000,"p":0.0055,"F":3},{"N":90000,"p":0.0055,"F":2.9},{"N":95000,"p":0.0055,"F":2.7},{"N":100000,"p":0.0055,"F":2.6},{"N":105000,"p":0.0055,"F":2.5},{"N":110000,"p":0.0055,"F":2.4},{"N":115000,"p":0.0055,"F":2.3},{"N":120000,"p":0.0055,"F":2.2},{"N":125000,"p":0.0055,"F":2.1},{"N":130000,"p":0.0055,"F":2.1},{"N":135000,"p":0.0055,"F":2},{"N":140000,"p":0.0055,"F":1.9},{"N":145000,"p":0.0055,"F":1.9},{"N":150000,"p":0.0055,"F":1.8},{"N":155000,"p":0.0055,"F":1.8},{"N":160000,"p":0.0055,"F":1.7},{"N":165000,"p":0.0055,"F":1.7},{"N":170000,"p":0.0055,"F":1.7},{"N":175000,"p":0.0055,"F":1.6},{"N":180000,"p":0.0055,"F":1.6},{"N":185000,"p":0.0055,"F":1.5},{"N":190000,"p":0.0055,"F":1.5},{"N":195000,"p":0.0055,"F":1.5},{"N":200000,"p":0.0055,"F":1.4},{"N":205000,"p":0.0055,"F":1.4},{"N":210000,"p":0.0055,"F":1.4},{"N":215000,"p":0.0055,"F":1.4},{"N":220000,"p":0.0055,"F":1.3},{"N":225000,"p":0.0055,"F":1.3},{"N":230000,"p":0.0055,"F":1.3},{"N":235000,"p":0.0055,"F":1.3},{"N":240000,"p":0.0055,"F":1.3},{"N":245000,"p":0.0055,"F":1.2},{"N":250000,"p":0.0055,"F":1.2},{"N":255000,"p":0.0055,"F":1.2},{"N":260000,"p":0.0055,"F":1.2},{"N":265000,"p":0.0055,"F":1.2},{"N":270000,"p":0.0055,"F":1.2},{"N":275000,"p":0.0055,"F":1.1},{"N":280000,"p":0.0055,"F":1.1},
{"N":5000,"p":0.005,"F":8},{"N":10000,"p":0.005,"F":8},{"N":15000,"p":0.005,"F":8},{"N":20000,"p":0.005,"F":8},{"N":25000,"p":0.005,"F":8},{"N":30000,"p":0.005,"F":8},{"N":35000,"p":0.005,"F":7.5},{"N":40000,"p":0.005,"F":6.6},{"N":45000,"p":0.005,"F":5.9},{"N":50000,"p":0.005,"F":5.3},{"N":55000,"p":0.005,"F":4.9},{"N":60000,"p":0.005,"F":4.5},{"N":65000,"p":0.005,"F":4.2},{"N":70000,"p":0.005,"F":3.9},{"N":75000,"p":0.005,"F":3.7},{"N":80000,"p":0.005,"F":3.4},{"N":85000,"p":0.005,"F":3.3},{"N":90000,"p":0.005,"F":3.1},{"N":95000,"p":0.005,"F":2.9},{"N":100000,"p":0.005,"F":2.8},{"N":105000,"p":0.005,"F":2.7},{"N":110000,"p":0.005,"F":2.6},{"N":115000,"p":0.005,"F":2.5},{"N":120000,"p":0.005,"F":2.4},{"N":125000,"p":0.005,"F":2.3},{"N":130000,"p":0.005,"F":2.2},{"N":135000,"p":0.005,"F":2.2},{"N":140000,"p":0.005,"F":2.1},{"N":145000,"p":0.005,"F":2},{"N":150000,"p":0.005,"F":2},{"N":155000,"p":0.005,"F":1.9},{"N":160000,"p":0.005,"F":1.9},{"N":165000,"p":0.005,"F":1.8},{"N":170000,"p":0.005,"F":1.8},{"N":175000,"p":0.005,"F":1.7},{"N":180000,"p":0.005,"F":1.7},{"N":185000,"p":0.005,"F":1.7},{"N":190000,"p":0.005,"F":1.6},{"N":195000,"p":0.005,"F":1.6},{"N":200000,"p":0.005,"F":1.6},{"N":205000,"p":0.005,"F":1.5},{"N":210000,"p":0.005,"F":1.5},{"N":215000,"p":0.005,"F":1.5},{"N":220000,"p":0.005,"F":1.4},{"N":225000,"p":0.005,"F":1.4},{"N":230000,"p":0.005,"F":1.4},{"N":235000,"p":0.005,"F":1.4},{"N":240000,"p":0.005,"F":1.3},{"N":245000,"p":0.005,"F":1.3},{"N":250000,"p":0.005,"F":1.3},{"N":255000,"p":0.005,"F":1.3},{"N":260000,"p":0.005,"F":1.3},{"N":265000,"p":0.005,"F":1.2},{"N":270000,"p":0.005,"F":1.2},{"N":275000,"p":0.005,"F":1.2},{"N":280000,"p":0.005,"F":1.2},{"N":285000,"p":0.005,"F":1.2},{"N":290000,"p":0.005,"F":1.2},{"N":295000,"p":0.005,"F":1.2},{"N":300000,"p":0.005,"F":1.1}
],
"curve":[{"N":48000,"p":0.030417},{"N":50000,"p":0.0292},{"N":55000,"p":0.026545},{"N":60000,"p":0.024333},{"N":65000,"p":0.022462},{"N":70000,"p":0.020857},{"N":75000,"p":0.019467},{"N":80000,"p":0.01825},{"N":90000,"p":0.016222},{"N":100000,"p":0.0146},{"N":110000,"p":0.013273},{"N":120000,"p":0.012167},{"N":130000,"p":0.011231},{"N":140000,"p":0.010429},{"N":150000,"p":0.009733},{"N":165000,"p":0.008848},{"N":180000,"p":0.008111},{"N":200000,"p":0.0073},{"N":220000,"p":0.006636},{"N":240000,"p":0.006083},{"N":260000,"p":0.005615},{"N":280000,"p":0.005214},{"N":300000,"p":0.004867}],
"insetA":[{"s":"N=300000","K":1300,"F":1.55},{"s":"N=300000","K":1400,"F":1.4},{"s":"N=300000","K":1500,"F":1.3},{"s":"N=300000","K":1600,"F":1.25},
{"s":"N=100000","K":100,"F":13.5},{"s":"N=100000","K":200,"F":7.6},{"s":"N=100000","K":300,"F":5.5},{"s":"N=100000","K":400,"F":4.2},{"s":"N=100000","K":500,"F":3.5},{"s":"N=100000","K":600,"F":2.9},{"s":"N=100000","K":700,"F":2.6},{"s":"N=100000","K":800,"F":2.4},{"s":"N=100000","K":900,"F":2.2},{"s":"N=100000","K":1000,"F":2},{"s":"N=100000","K":1100,"F":1.8},{"s":"N=100000","K":1200,"F":1.7},{"s":"N=100000","K":1300,"F":1.55}],
"insetB":[{"s":"K=500","N":50000,"F":3.45},{"s":"K=500","N":100000,"F":3.45},{"s":"K=500","N":150000,"F":3.45},{"s":"K=500","N":200000,"F":3.45},{"s":"K=500","N":250000,"F":3.45},{"s":"K=500","N":300000,"F":3.45},{"s":"K=500","N":350000,"F":3.45},{"s":"K=500","N":400000,"F":3.45},{"s":"K=500","N":450000,"F":3.45},{"s":"K=500","N":500000,"F":3.45},
{"s":"K=1500","N":150000,"F":1.25},{"s":"K=1500","N":200000,"F":1.25},{"s":"K=1500","N":250000,"F":1.25},{"s":"K=1500","N":300000,"F":1.25},{"s":"K=1500","N":350000,"F":1.25},{"s":"K=1500","N":400000,"F":1.25},{"s":"K=1500","N":450000,"F":1.25},{"s":"K=1500","N":500000,"F":1.25}]
},
"columns":2,
"align":"none",
"bounds":"flush",
"spacing":{"row":-189,"column":-185},
"resolve":{"scale":{"color":"independent","fill":"independent","stroke":"independent","shape":"independent","size":"independent"},"legend":{"color":"independent","fill":"independent","stroke":"independent","shape":"independent","size":"independent"}},
"concat":[
{"width":1,"height":183,"view":{"stroke":null,"fill":null},"data":{"values":[]},"mark":"point"},
{"width":177,"height":89,"view":{"fill":"white","stroke":"#8c8c8c"},
"encoding":{
"x":{"field":"K","type":"quantitative","title":"K","scale":{"domain":[0,1650],"nice":false},"axis":{"values":[0,400,800,1200,1600],"format":"d","labelFontSize":8,"labelOverlap":false,"labelBound":false,"titleFontSize":15,"titlePadding":0,"tickSize":-3,"tickColor":"#666","labelPadding":5}},
"y":{"field":"F","type":"quantitative","title":"F̄ (Hz)","scale":{"domain":[0,16],"nice":false},"axis":{"values":[0,4,8,12,16],"format":"d","labelFontSize":8,"labelOverlap":false,"labelBound":false,"titleFontSize":14,"titlePadding":2,"tickSize":-3,"tickColor":"#666","labelPadding":5}}},
"layer":[
{"data":{"name":"insetA"},"mark":{"type":"line","color":"black","strokeWidth":1},"encoding":{"detail":{"field":"s"}}},
{"data":{"name":"insetA"},"mark":{"type":"point","filled":true,"shape":"circle","size":50,"stroke":"black","strokeWidth":1,"opacity":1},
"encoding":{"fill":{"condition":{"test":"datum.s === 'N=100000'","value":"#d42020"},"value":"#ffffff"}}},
{"data":{"values":[]},"mark":{"type":"point","filled":true,"strokeWidth":1,"opacity":1},
"encoding":{
"shape":{"field":"s","type":"nominal","scale":{"domain":["N=100000","N=300000"],"range":["M-1.4,-0.38H-0.6V0.38H-1.4Z M0.6,-0.38H1.4V0.38H0.6Z M-0.6,0H0.6","M-1.38,0A0.58,0.58,0,1,0,-0.22,0A0.58,0.58,0,1,0,-1.38,0Z M0.22,0A0.58,0.58,0,1,0,1.38,0A0.58,0.58,0,1,0,0.22,0Z M-0.22,0H0.22"]},
"legend":{"orient":"none","legendX":106,"legendY":-1,"title":null,"labelFontSize":11,"symbolSize":121,"symbolStrokeWidth":1,"strokeColor":"black","fillColor":"white","padding":4,"rowPadding":0,"labelOffset":5}},
"fill":{"field":"s","type":"nominal","scale":{"domain":["N=100000","N=300000"],"range":["#e00000","transparent"]}},
"stroke":{"field":"s","type":"nominal","scale":{"domain":["N=100000","N=300000"],"range":["#e00000","#000000"]}}}},
{"data":{"values":[{"K":15,"F":0.7,"t":"(a)"}]},"mark":{"type":"text","align":"left","baseline":"alphabetic","fontSize":15,"font":"Liberation Serif","color":"black"},
"encoding":{"text":{"field":"t"}}}
]},
{
"width":320,"height":311,
"layer":[
{"data":{"name":"cells"},
"mark":{"type":"rect","width":5.5,"height":6.2,"xOffset":-2.67,"clip":true},
"encoding":{
"x":{"field":"N","type":"quantitative","title":"N","scale":{"domain":[0,300000],"nice":false,"zero":false},
"axis":{"values":[0,100000,200000,300000],"format":"d","labelExpr":"datum.value === 0 ? '5000' : datum.label","labelFontSize":14,"titleFontSize":23,"ticks":false,"labelPadding":2,"titlePadding":-3}},
"y":{"field":"p","type":"quantitative","title":"p","scale":{"domain":[0.00475,0.03025],"nice":false,"zero":false},
"axis":{"values":[0.005,0.01,0.015,0.02,0.025,0.03],"format":".3~f","labelFontSize":14,"ticks":false,"labelPadding":2,"titleAngle":0,"titleFontSize":23,"titleX":-53,"titleY":156,"titleAlign":"center","titleBaseline":"alphabetic"}},
"color":{"field":"F","type":"quantitative",
"scale":{"domain":[0.77,0.999,1.0,1.1,1.2,1.3,1.5,1.7,2.0,2.5,3.0,3.5,4.0,4.5,5.0,6.0,7.0,8.0],"range":["#ffffff","#ffffff","#c8e8f4","#a8c8f0","#90b0f0","#7090f0","#3050f0","#1a30f2","#0a10f0","#0a0ad8","#101080","#3a0a40","#800a0a","#a02a10","#b85a14","#d8960c","#eec800","#ffff00"],"interpolate":"rgb"},
"legend":{"orient":"right","offset":9,"direction":"vertical","gradientLength":313,"gradientThickness":16,"values":[1,2,3,4,5,6,7,7.97],"labelExpr":"datum.value > 7.9 ? '8' : datum.label","labelFontSize":15,"labelOffset":3,"labelOverlap":false,"title":"F̄ (Hz)","titleOrient":"right","titleFontSize":19,"titlePadding":1,"titleAnchor":"middle","gradientStrokeColor":"#8c8c8c","gradientStrokeWidth":1,
"encode":{"title":{"update":{"angle":{"value":0},"align":{"value":"left"},"baseline":{"value":"middle"},"dy":{"value":-8}}}}}}
}},
{"data":{"name":"curve"},
"mark":{"type":"line","color":"black","strokeWidth":1.6,"clip":true,"interpolate":"monotone"},
"encoding":{"x":{"field":"N","type":"quantitative"},"y":{"field":"p","type":"quantitative"}}}
]
},
{"width":1,"height":1,"view":{"stroke":null,"fill":null},"data":{"values":[]},"mark":"point"},
{"width":1,"height":1,"view":{"stroke":null,"fill":null},"data":{"values":[]},"mark":"point"},
{"width":177,"height":88,"view":{"fill":"white","stroke":"#8c8c8c"},
"encoding":{
"x":{"field":"N","type":"quantitative","title":"N","scale":{"domain":[0,520000],"nice":false},"axis":{"values":[0,100000,200000,300000,400000,500000],"format":"d","labelFontSize":7,"labelOverlap":false,"labelBound":false,"titleFontSize":16,"titlePadding":0,"tickSize":-3,"tickColor":"#666","labelPadding":5}},
"y":{"field":"F","type":"quantitative","title":"F̄ (Hz)","scale":{"domain":[0,6],"nice":false},"axis":{"values":[0,2,4,6],"format":"d","labelFontSize":8,"labelOverlap":false,"labelBound":false,"titleFontSize":14,"titlePadding":2,"tickSize":-3,"tickColor":"#666","labelPadding":5}}},
"layer":[
{"data":{"name":"insetB"},"mark":{"type":"line","strokeWidth":1},
"encoding":{"detail":{"field":"s"},"stroke":{"condition":{"test":"datum.s === 'K=500'","value":"#ff0000"},"value":"#000000"}}},
{"data":{"name":"insetB"},"mark":{"type":"point","strokeWidth":1.2,"opacity":1,"filled":false},
"encoding":{
"stroke":{"condition":{"test":"datum.s === 'K=500'","value":"#ff0000"},"value":"#000000"},
"fill":{"condition":{"test":"datum.s === 'K=500'","value":"#ff0000"},"value":"transparent"},
"shape":{"condition":{"test":"datum.s === 'K=500'","value":"square"},"value":"circle"},
"size":{"condition":{"test":"datum.s === 'K=500'","value":25},"value":42}}},
{"data":{"values":[]},"mark":{"type":"point","filled":true,"strokeWidth":1,"opacity":1},
"encoding":{
"shape":{"field":"s","type":"nominal","scale":{"domain":["K=500","K=1500"],"range":["M-1.4,-0.38H-0.6V0.38H-1.4Z M0.6,-0.38H1.4V0.38H0.6Z M-0.6,0H0.6","M-1.38,0A0.58,0.58,0,1,0,-0.22,0A0.58,0.58,0,1,0,-1.38,0Z M0.22,0A0.58,0.58,0,1,0,1.38,0A0.58,0.58,0,1,0,0.22,0Z M-0.22,0H0.22"]},
"legend":{"orient":"none","legendX":114,"legendY":-2,"title":null,"labelFontSize":11,"symbolSize":110,"symbolStrokeWidth":1,"strokeColor":"black","fillColor":"white","padding":4,"rowPadding":0,"labelOffset":5}},
"fill":{"field":"s","type":"nominal","scale":{"domain":["K=500","K=1500"],"range":["#ff0000","transparent"]}},
"stroke":{"field":"s","type":"nominal","scale":{"domain":["K=500","K=1500"],"range":["#ff0000","#000000"]}}}},
{"data":{"values":[{"N":6000,"F":0.35,"t":"(b)"}]},"mark":{"type":"text","align":"left","baseline":"alphabetic","fontSize":15,"font":"Liberation Serif","color":"black"},
"encoding":{"text":{"field":"t"}}}
]}
]
}
